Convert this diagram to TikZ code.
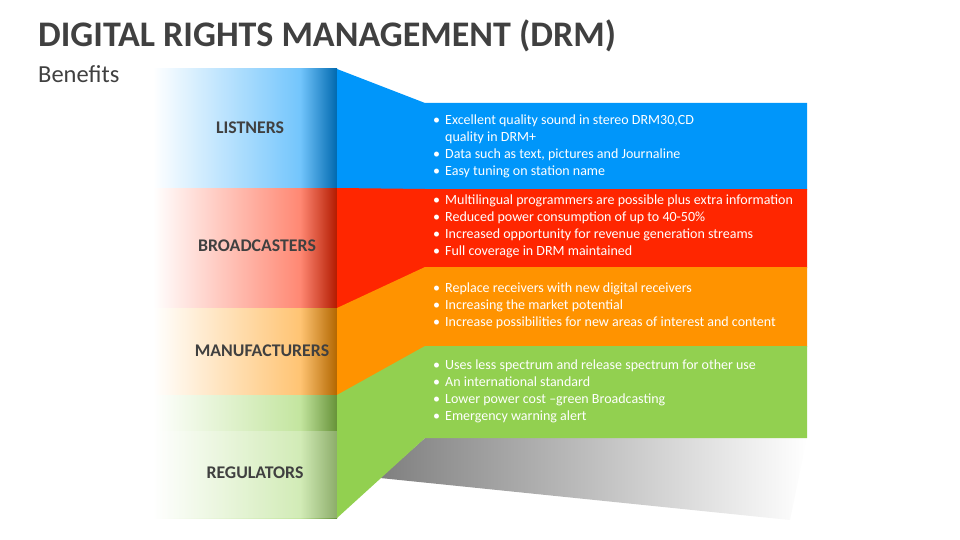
\documentclass[tikz,border=0pt]{standalone}
\usepackage{fontspec}
\setmainfont{Carlito}
\begin{document}
\begin{tikzpicture}[x=1pt,y=-1pt,
  lab/.style={font=\bfseries\fontsize{17.8}{20}\selectfont,text=black!75},
  bul/.style={anchor=north west,text=white,font=\fontsize{14}{17}\selectfont,align=left,inner sep=0pt},
  ttl/.style={anchor=west,inner sep=0pt}]
\useasboundingbox (0,0) rectangle (960,540);
\definecolor{cb}{HTML}{0096FA}\definecolor{cr}{HTML}{FF2600}
\definecolor{co}{HTML}{FF9300}\definecolor{cg}{HTML}{92D050}
\newcommand\bb{\makebox[12pt][l]{\textbullet}}
\node[ttl,font=\bfseries\fontsize{36}{40}\selectfont,text=black!75] (title) at (38,36) {DIGITAL RIGHTS MANAGEMENT (DRM)};
\node[ttl,font=\fontsize{24.5}{26}\selectfont,text=black!75] (sub) at (38,74) {Benefits};
% shadow
\shade[left color=black!50,right color=white] (380,478) -- (425,438) -- (807,438) -- (790,520) -- cycle;
% left columns
\foreach \c/\a/\b in {cb/69/189,cr/188/309,co/308/396,cg/395/518}{
  \shade[left color=white,right color=\c!55] (153,\a) rectangle (300.5,\b);
  \shade[left color=\c!55,right color=\c!70!black] (300,\a) rectangle (337,\b);
}
\fill[white,opacity=0.25] (153,431) rectangle (337,518);
% connectors and panels
\fill[cb] (337,69) -- (425,103) -- (807,103) -- (807,190) -- (337,189) -- cycle;
\fill[cr] (337,188) -- (425,189) -- (807,189) -- (807,268) -- (425,268) -- (337,309) -- cycle;
\fill[co] (337,308) -- (425,267) -- (807,267) -- (807,347) -- (425,347) -- (337,396) -- cycle;
\fill[cg] (337,395) -- (425,346) -- (807,346) -- (807,438) -- (425,438) -- (337,518) -- cycle;
\node[lab] (l1) at (250,128) {LISTNERS};
\node[lab] (l2) at (257,246) {BROADCASTERS};
\node[lab] (l3) at (262,351) {MANUFACTURERS};
\node[lab] (l4) at (255,473) {REGULATORS};
\node[bul] (t1) at (433,115) {\bb Excellent quality sound in stereo DRM30,CD\\ \phantom{\bb}quality in DRM+\\ \bb Data such as text, pictures and Journaline\\ \bb Easy tuning on station name};
\node[bul] (t2) at (433,195) {\bb Multilingual programmers are possible plus extra information\\ \bb Reduced power consumption of up to 40-50\%\\ \bb Increased opportunity for revenue generation streams\\ \bb Full coverage in DRM maintained};
\node[bul] (t3) at (433,283) {\bb Replace receivers with new digital receivers\\ \bb Increasing the market potential\\ \bb Increase possibilities for new areas of interest and content};
\node[bul] (t4) at (433,360) {\bb Uses less spectrum and release spectrum for other use\\ \bb An international standard\\ \bb Lower power cost --green Broadcasting\\ \bb Emergency warning alert};
\end{tikzpicture}
\end{document}
